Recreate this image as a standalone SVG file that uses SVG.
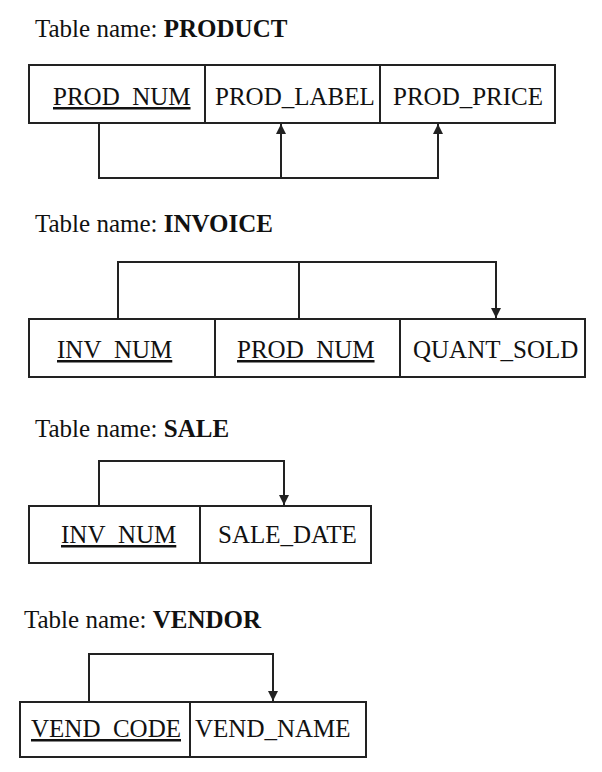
<svg xmlns="http://www.w3.org/2000/svg" width="602" height="772" viewBox="0 0 602 772">
<defs>
<style>
.title{font-family:"Liberation Serif","Times New Roman",serif;font-size:25px;fill:#111}
.title .b{font-weight:bold}
.cell{font-family:"Liberation Serif","Times New Roman",serif;font-size:25px;fill:#111}
.key{text-decoration:underline}
.box{fill:#fff;stroke:#222;stroke-width:2}
.div{stroke:#222;stroke-width:2}
.conn{fill:none;stroke:#222;stroke-width:2}
</style>
<marker id="arr" viewBox="0 0 10 10" refX="10" refY="5" markerWidth="10" markerHeight="10" markerUnits="userSpaceOnUse" orient="auto">
<path d="M0,0 L10,5 L0,10 Z" fill="#222"/>
</marker>
</defs>
<rect width="602" height="772" fill="#fff"/>

<g id="product">
<text class="title" x="35" y="37">Table name: <tspan class="b">PRODUCT</tspan></text>
<rect class="box" x="29" y="65" width="526" height="58"/>
<line class="div" x1="205" y1="65" x2="205" y2="123"/>
<line class="div" x1="380" y1="65" x2="380" y2="123"/>
<text class="cell key" x="53" y="105">PROD_NUM</text>
<text class="cell" x="215" y="105">PROD_LABEL</text>
<text class="cell" x="393" y="105">PROD_PRICE</text>
</g>

<g id="invoice">
<text class="title" x="35" y="232">Table name: <tspan class="b">INVOICE</tspan></text>
<rect class="box" x="29" y="319" width="556" height="58"/>
<line class="div" x1="215" y1="319" x2="215" y2="377"/>
<line class="div" x1="400" y1="319" x2="400" y2="377"/>
<text class="cell key" x="57" y="358">INV_NUM</text>
<text class="cell key" x="237" y="358">PROD_NUM</text>
<text class="cell" x="413" y="358">QUANT_SOLD</text>
</g>

<g id="sale">
<text class="title" x="35" y="437">Table name: <tspan class="b">SALE</tspan></text>
<rect class="box" x="29" y="506" width="342" height="57"/>
<line class="div" x1="200" y1="506" x2="200" y2="563"/>
<text class="cell key" x="61" y="543">INV_NUM</text>
<text class="cell" x="218" y="543">SALE_DATE</text>
</g>

<g id="vendor">
<text class="title" x="24" y="628">Table name: <tspan class="b">VENDOR</tspan></text>
<rect class="box" x="20" y="702" width="346" height="55"/>
<line class="div" x1="190" y1="702" x2="190" y2="757"/>
<text class="cell key" x="31" y="737">VEND_CODE</text>
<text class="cell" x="195" y="737">VEND_NAME</text>
</g>

<g id="connectors">
<polyline class="conn" points="99,123 99,178 438,178 438,124" marker-end="url(#arr)"/>
<line class="conn" x1="281" y1="178" x2="281" y2="124" marker-end="url(#arr)"/>
<polyline class="conn" points="118,319 118,262 496,262 496,318" marker-end="url(#arr)"/>
<line class="conn" x1="299" y1="319" x2="299" y2="262"/>
<polyline class="conn" points="99,506 99,461 284,461 284,505" marker-end="url(#arr)"/>
<polyline class="conn" points="89,702 89,654 273,654 273,701" marker-end="url(#arr)"/>
</g>
</svg>
